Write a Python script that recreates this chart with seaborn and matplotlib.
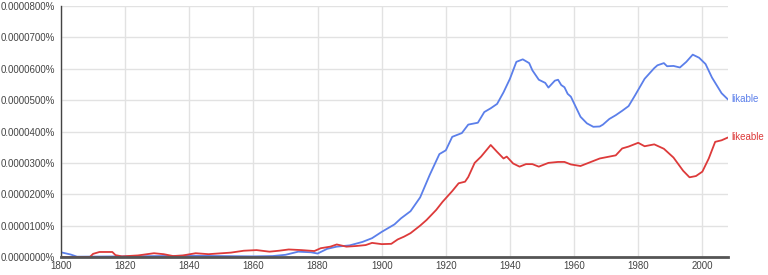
import matplotlib
matplotlib.use("Agg")
import matplotlib.pyplot as plt
import seaborn as sns
import pandas as pd
from matplotlib.ticker import FuncFormatter, MultipleLocator

# values in units of 0.0000001 %
likable_years = [1800, 1803, 1805, 1820, 1840, 1860, 1866, 1870, 1874, 1878,
                 1880, 1883, 1886, 1890, 1894, 1897, 1900, 1902, 1904, 1906,
                 1909, 1912, 1915, 1918, 1920, 1922, 1925, 1927, 1930, 1932,
                 1934, 1936, 1938, 1940, 1942, 1944, 1946, 1947, 1949, 1951,
                 1952, 1954, 1955, 1956, 1957, 1958, 1959, 1962, 1964, 1966,
                 1968, 1969, 1971, 1973, 1975, 1977, 1979, 1982, 1985, 1986,
                 1988, 1989, 1991, 1993, 1995, 1997, 1999, 2001, 2003, 2006,
                 2008]
likable_vals = [15, 8, 1, 2, 4, 2, 3, 7, 17, 15,
                11, 26, 33, 37, 48, 60, 80, 92, 104, 123,
                146, 190, 262, 328, 340, 383, 395, 422, 428, 462,
                474, 488, 525, 568, 622, 630, 618, 595, 565, 555,
                540, 562, 565, 548, 541, 520, 511, 447, 426, 415,
                416, 422, 440, 452, 466, 481, 515, 568, 602, 611,
                618, 608, 609, 604, 622, 645, 635, 615, 572, 522,
                502]

likeable_years = [1800, 1809, 1810, 1812, 1816, 1817, 1819, 1824, 1829, 1832,
                  1835, 1838, 1842, 1846, 1853, 1857, 1861, 1865, 1868, 1871,
                  1875, 1879, 1881, 1884, 1886, 1889, 1892, 1895, 1897, 1900,
                  1903, 1905, 1907, 1909, 1912, 1914, 1917, 1919, 1922, 1924,
                  1926, 1927, 1929, 1931, 1934, 1936, 1938, 1939, 1941, 1943,
                  1945, 1947, 1949, 1952, 1955, 1957, 1959, 1962, 1964, 1966,
                  1968, 1971, 1973, 1975, 1977, 1980, 1982, 1985, 1988, 1991,
                  1994, 1996, 1998, 2000, 2002, 2004, 2006, 2008]
likeable_vals = [0, 0, 10, 16, 16, 6, 2, 5, 12, 9,
                 3, 5, 12, 9, 14, 20, 22, 17, 20, 24,
                 22, 19, 28, 33, 40, 33, 35, 38, 45, 41,
                 42, 56, 65, 76, 100, 118, 150, 176, 210, 235,
                 240, 255, 300, 320, 357, 335, 314, 320, 298, 288,
                 296, 296, 288, 300, 303, 303, 295, 290, 298, 306,
                 314, 320, 324, 346, 352, 364, 353, 359, 345, 317,
                 275, 254, 258, 272, 314, 367, 372, 381]

series_names = ["likable", "likeable"]
colors = {"likable": "#5b7fea", "likeable": "#dd3a3a"}
x_ticks = list(range(1800, 2001, 20))

df = pd.concat([
    pd.DataFrame({"year": likable_years, "value": likable_vals, "word": "likable"}),
    pd.DataFrame({"year": likeable_years, "value": likeable_vals, "word": "likeable"}),
])

sns.set_style("white")
plt.rcParams["font.family"] = ["Liberation Sans", "DejaVu Sans"]

fig = plt.figure(figsize=(7.68, 2.75), dpi=100)
ax = fig.add_axes([61 / 768, 1 - 257 / 275, (728 - 61) / 768, (257 - 6) / 275])

sns.lineplot(data=df, x="year", y="value", hue="word", palette=colors,
             hue_order=series_names, linewidth=1.3, legend=False, ax=ax)

ax.set_xlim(1800, 2008)
ax.set_ylim(0, 800)
ax.set_xticks(x_ticks)
ax.yaxis.set_major_locator(MultipleLocator(100))
ax.yaxis.set_major_formatter(FuncFormatter(lambda v, p: f"{v * 1e-7:.7f}%"))
ax.set_xlabel("")
ax.set_ylabel("")
ax.grid(True, color="#e2e2e2", linewidth=1.0)
ax.set_axisbelow(True)
for s in ["top", "right"]:
    ax.spines[s].set_visible(False)
ax.spines["left"].set_color("#444444")
ax.spines["left"].set_linewidth(1.0)
ax.spines["bottom"].set_color("#555555")
ax.spines["bottom"].set_linewidth(2.0)
ax.tick_params(axis="y", direction="out", length=3, width=1, color="#444444",
               labelsize=7, labelcolor="#444444", pad=1)
ax.tick_params(axis="x", length=0, labelsize=7, labelcolor="#444444", pad=3)

ax.text(2009, likable_vals[-1], "likable", color=colors["likable"], fontsize=7,
        va="center", ha="left", clip_on=False)
ax.text(2009, likeable_vals[-1], "likeable", color=colors["likeable"], fontsize=7,
        va="center", ha="left", clip_on=False)

fig.savefig("out.png", dpi=100)
